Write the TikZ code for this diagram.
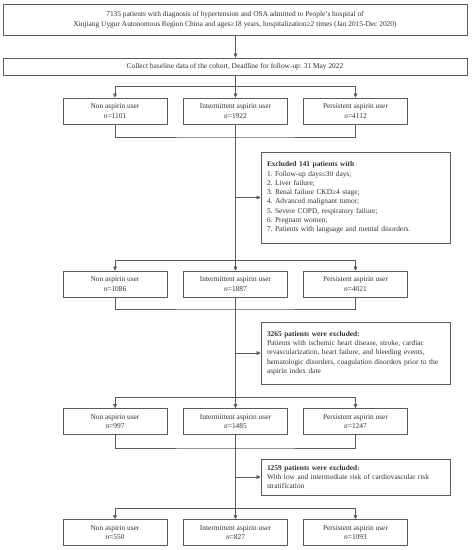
\documentclass[tikz,border=0pt]{standalone}
\usepackage{fontspec}
\setmainfont{Liberation Serif}
\usetikzlibrary{arrows.meta}
\definecolor{linec}{HTML}{5A5A5A}
\definecolor{txtc}{HTML}{333333}
\frenchspacing
\newcommand{\fsz}{\fontsize{7.4}{9.3}\selectfont}
\begin{document}
\begin{tikzpicture}[x=1pt,y=-1pt,
  box/.style={draw=linec, line width=0.6pt, minimum width=104pt, minimum height=26pt, inner sep=0pt, align=center, font=\fsz, text=txtc},
  wide/.style={draw=linec, line width=0.6pt, minimum width=464pt, inner sep=0pt, align=center, font=\fsz, text=txtc},
  exbox/.style={draw=linec, line width=0.6pt, text width=177pt, inner xsep=6pt, inner ysep=0pt, align=left, font=\fsz, text=txtc},
  arr/.style={draw=linec, line width=0.6pt, -{Triangle[length=4.2pt,width=3.8pt]}},
  ln/.style={draw=linec, line width=0.6pt}]
\useasboundingbox (0,0) rectangle (472,550);
\fill[white] (0,0) rectangle (472,550);

\node[wide, minimum height=31pt, font=\fontsize{7.4}{10}\selectfont] (top) at (235,19.5) {7135 patients with diagnosis of hypertension and OSA admitted to People's hospital of\\Xinjiang Uygur Autonomous Region China and ages≥18 years, hospitalization≥2 times (Jan 2015-Dec 2020)};
\node[wide, minimum height=17pt] (base) at (235,66.5) {Collect baseline data of the cohort, Deadline for follow-up: 31 May 2022};

% group 1
\node[box] (a1) at (115,111) {Non aspirin user\\\textit{n}=1101};
\node[box] (b1) at (235.5,111) {Intermittent aspirin user\\\textit{n}=1922};
\node[box] (c1) at (355.5,111) {Persistent aspirin user\\\textit{n}=4112};
% exclusion 1
\node[exbox, minimum height=91pt] (e1) at (355.5,197.5) {\textbf{Excluded 141 patients with}\\1. Follow-up days≤30 days;\\2. Liver failure;\\3. Renal failure CKD≥4 stage;\\4. Advanced malignant tumor;\\5. Severe COPD, respiratory failure;\\6. Pregnant women;\\7. Patients with language and mental disorders.};
% group 2
\node[box] (a2) at (115,284) {Non aspirin user\\\textit{n}=1086};
\node[box] (b2) at (235.5,284) {Intermittent aspirin user\\\textit{n}=1887};
\node[box] (c2) at (355.5,284) {Persistent aspirin user\\\textit{n}=4021};
% exclusion 2
\node[exbox, minimum height=62pt] (e2) at (355.5,353) {\textbf{3265 patients were excluded:}\\Patients with ischemic heart disease, stroke, cardiac\\revascularization, heart failure, and bleeding events,\\hematologic disorders, coagulation disorders prior to the\\aspirin index date};
% group 3
\node[box] (a3) at (115,421.5) {Non aspirin user\\\textit{n}=997};
\node[box] (b3) at (235.5,421.5) {Intermittent aspirin user\\\textit{n}=1485};
\node[box] (c3) at (355.5,421.5) {Persistent aspirin user\\\textit{n}=1247};
% exclusion 3
\node[exbox, minimum height=36pt] (e3) at (355.5,477) {\textbf{1259 patients were excluded:}\\With low and intermediate risk of cardiovascular risk\\stratification};
% group 4
\node[box] (a4) at (115,532.5) {Non aspirin user\\\textit{n}=550};
\node[box] (b4) at (235.5,532.5) {Intermittent aspirin user\\\textit{n}=827};
\node[box] (c4) at (355.5,532.5) {Persistent aspirin user\\\textit{n}=1093};

% coordinates
\coordinate (s1) at (235.5,86);
\coordinate (m1) at (235.5,137);
\coordinate (s2) at (235.5,260);
\coordinate (m2) at (235.5,309);
\coordinate (s3) at (235.5,397);
\coordinate (m3) at (235.5,448);
\coordinate (s4) at (235.5,508.5);

% connectors
\draw[arr] (top.south -| s1) -- (base.north -| s1);
\draw[ln] (base.south -| s1) -- (s1);
\draw[ln] (s1 -| a1) -- (s1 -| c1);
\draw[arr] (s1 -| a1) -- (a1.north);
\draw[arr] (s1) -- (b1.north);
\draw[arr] (s1 -| c1) -- (c1.north);

\draw[ln] (a1.south) |- (m1) -| (c1.south);
\draw[ln] (b1.south) -- (s2);
\draw[arr] (e1.west -| s2) -- (e1.west);
\draw[ln] (s2 -| a2) -- (s2 -| c2);
\draw[arr] (s2 -| a2) -- (a2.north);
\draw[arr] (s2) -- (b2.north);
\draw[arr] (s2 -| c2) -- (c2.north);

\draw[ln] (a2.south) |- (m2) -| (c2.south);
\draw[ln] (b2.south) -- (s3);
\draw[arr] (e2.west -| s3) -- (e2.west);
\draw[ln] (s3 -| a3) -- (s3 -| c3);
\draw[arr] (s3 -| a3) -- (a3.north);
\draw[arr] (s3) -- (b3.north);
\draw[arr] (s3 -| c3) -- (c3.north);

\draw[ln] (a3.south) |- (m3) -| (c3.south);
\draw[ln] (b3.south) -- (s4);
\draw[arr] (e3.west -| s4) -- (e3.west);
\draw[ln] (s4 -| a4) -- (s4 -| c4);
\draw[arr] (s4 -| a4) -- (a4.north);
\draw[arr] (s4) -- (b4.north);
\draw[arr] (s4 -| c4) -- (c4.north);
\end{tikzpicture}
\end{document}
